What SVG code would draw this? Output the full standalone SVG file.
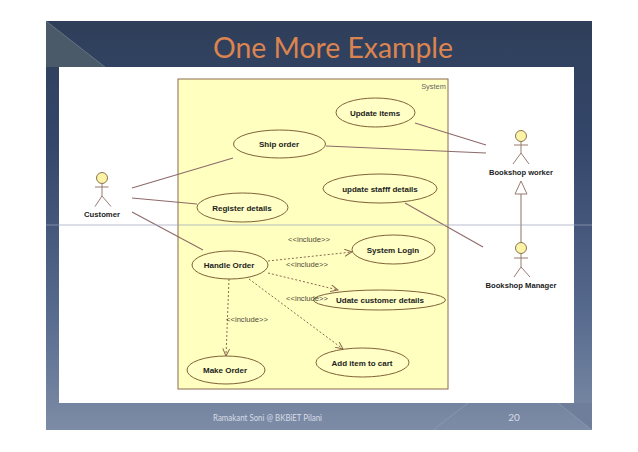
<svg xmlns="http://www.w3.org/2000/svg" width="638" height="452" viewBox="0 0 638 452">
<style>
.uc{fill:#ffffc6;stroke:#806238;stroke-width:1}
.t{font-family:"Liberation Sans",Arial,sans-serif;font-weight:bold;font-size:8px;fill:#1c1c22;text-anchor:middle}
.inc{font-family:"Liberation Sans",Arial,sans-serif;font-size:7.6px;fill:#4f4a3a;text-anchor:middle}
.as{stroke:#8e6a6a;stroke-width:1.1;fill:none}
.dash{stroke:#8a6a50;stroke-width:1;fill:none;stroke-dasharray:2 2}
.act{stroke:#9a7a72;stroke-width:1;fill:none}
.head{fill:#fdf3a6;stroke:#8a7550;stroke-width:1}
</style>
<defs>
<linearGradient id="bg" x1="0" y1="0" x2="0" y2="1"><stop offset="0" stop-color="#2f3f5a"/><stop offset="0.3" stop-color="#34466a"/><stop offset="0.7" stop-color="#55698d"/><stop offset="1" stop-color="#7d8ca6"/></linearGradient>
<marker id="open" markerWidth="9" markerHeight="8" refX="7.5" refY="3.5" orient="auto" markerUnits="userSpaceOnUse"><path d="M0 0L7.5 3.5L0 7" fill="none" stroke="#8a6a50" stroke-width="1"/></marker>
</defs>
<rect width="638" height="452" fill="#fff"/>
<g id="slide">
<rect x="46" y="21" width="546" height="409" fill="url(#bg)"/>
<path d="M46 21L105 67H46Z" fill="#4a5a68"/>
<path d="M46 21L105 67" stroke="#7f8c98" stroke-width="0.6" fill="none"/>
<path d="M558 403L592 430V403Z" fill="#6e7e9b"/>
<path d="M433 430L468 403M558 403L592 430" stroke="#8f9db4" stroke-width="0.7" fill="none"/>
<rect x="59" y="67" width="515" height="336" fill="#fff"/>
<text x="333" y="58" font-family="Lato,sans-serif" font-size="28" fill="#dc8450" text-anchor="middle" textLength="240" lengthAdjust="spacingAndGlyphs">One More Example</text>
<text x="267.500" y="421" font-family="Lato,sans-serif" font-size="9" fill="#d7dce6" text-anchor="middle" textLength="109" lengthAdjust="spacingAndGlyphs">Ramakant Soni @ BKBiET Pilani</text>
<text x="514" y="421" font-family="Lato,sans-serif" font-size="10" fill="#d7dce6" text-anchor="middle">20</text>
</g>
<g id="system">
<rect x="178" y="79" width="270" height="310" fill="#ffffc0" stroke="#8a6a50" stroke-width="1"/>
<text x="433.500" y="89" font-family="Liberation Sans,sans-serif" font-size="7.400" fill="#666" text-anchor="middle">System</text>
</g>
<g id="connectors">
<path class="as" d="M132 188L233 158"/>
<path class="as" d="M132 198L197 204"/>
<path class="as" d="M132 212L203 250"/>
<path class="as" d="M326 146L486 153"/>
<path class="as" d="M415 123L486 145"/>
<path class="as" d="M405 203L483 247"/>
<path class="dash" marker-end="url(#open)" d="M268 261L352 252"/>
<path class="dash" marker-end="url(#open)" d="M268 273L338 290"/>
<path class="dash" marker-end="url(#open)" d="M249 279L343 349"/>
<path class="dash" marker-end="url(#open)" d="M229 279L226 356"/>
<path d="M521 194V243" stroke="#9a7a72" stroke-width="1.1" fill="none"/>
<path d="M521 181L515 194H527Z" fill="#fff" stroke="#9a7a72" stroke-width="1"/>
</g>
<g id="update-items"><ellipse class="uc" cx="375.500" cy="112.500" rx="39.500" ry="14.500"/><text class="t" x="375" y="115.500">Update items</text></g>
<g id="ship-order"><ellipse class="uc" cx="279.500" cy="144" rx="46" ry="14"/><text class="t" x="279" y="147">Ship order</text></g>
<g id="update-staff"><ellipse class="uc" cx="380" cy="188.500" rx="57" ry="14.500"/><text class="t" x="380" y="192">update stafff details</text></g>
<g id="register-details"><ellipse class="uc" cx="242.500" cy="207.500" rx="45.500" ry="14.500"/><text class="t" x="242" y="210.500">Register details</text></g>
<g id="handle-order"><ellipse class="uc" cx="230" cy="265" rx="38" ry="14"/><text class="t" x="229" y="268">Handle Order</text></g>
<g id="system-login"><ellipse class="uc" cx="393.500" cy="249.500" rx="41.500" ry="14.500"/><text class="t" x="393" y="252.500">System Login</text></g>
<g id="update-customer"><ellipse class="uc" cx="379.500" cy="300" rx="66" ry="10"/><text class="t" x="380" y="303">Udate customer details</text></g>
<g id="make-order"><ellipse class="uc" cx="226" cy="370" rx="39" ry="14"/><text class="t" x="225" y="373">Make Order</text></g>
<g id="add-item"><ellipse class="uc" cx="362.500" cy="362.500" rx="46.500" ry="14.500"/><text class="t" x="362" y="365.500">Add item to cart</text></g>
<g id="include-labels">
<text class="inc" x="309" y="241.500">&lt;&lt;include&gt;&gt;</text>
<text class="inc" x="307" y="266.500">&lt;&lt;include&gt;&gt;</text>
<text class="inc" x="307" y="300.500">&lt;&lt;include&gt;&gt;</text>
<text class="inc" x="247" y="321.500">&lt;&lt;include&gt;&gt;</text>
</g>
<g id="customer"><circle class="head" cx="102" cy="178" r="5.500"/><path class="act" d="M102 183.500V196M95 187H108.500M95 206.500L102 196L111 206.500"/><text class="t" x="102" y="217" textLength="36" lengthAdjust="spacingAndGlyphs">Customer</text></g>
<g id="bookshop-worker"><circle class="head" cx="521" cy="136" r="5.500"/><path class="act" d="M521 141.500V153M514 145H528M513 164L521 153L529 164"/><text class="t" x="521" y="175" textLength="64" lengthAdjust="spacingAndGlyphs">Bookshop worker</text></g>
<g id="bookshop-manager"><circle class="head" cx="521" cy="248" r="5.500"/><path class="act" d="M521 253.500V267M514 258H528M514 277L521 267L530 277"/><text class="t" x="521" y="288" textLength="71" lengthAdjust="spacingAndGlyphs">Bookshop Manager</text></g>
<path id="rule" d="M46 225H592" stroke="#98a2b8" stroke-width="0.7" fill="none"/>
</svg>
